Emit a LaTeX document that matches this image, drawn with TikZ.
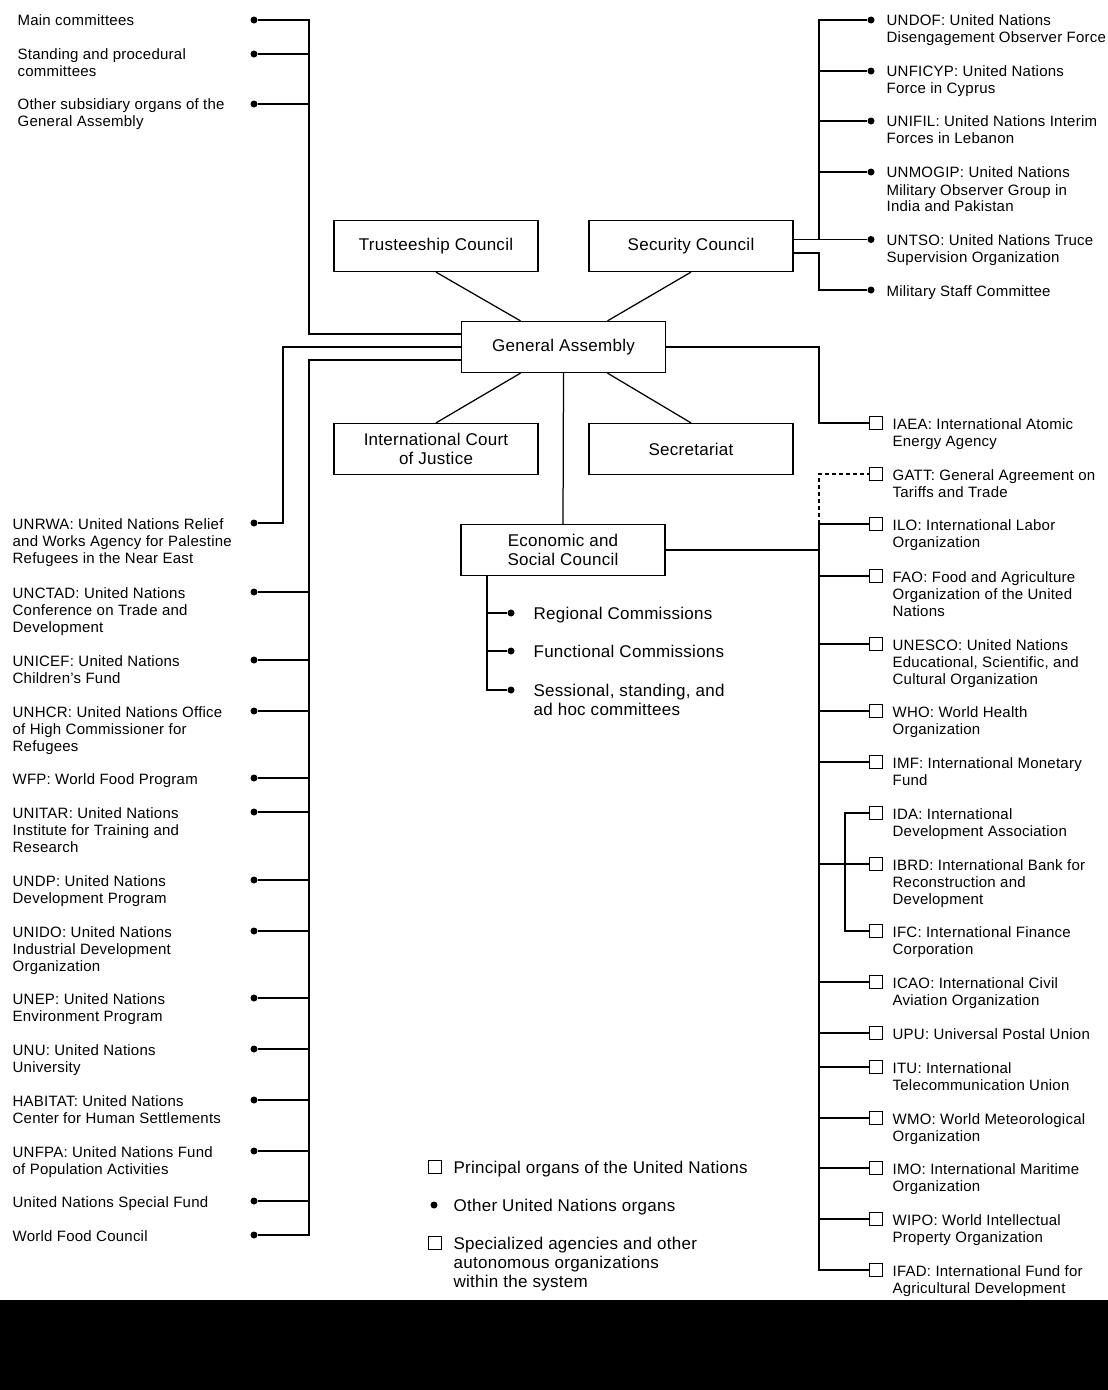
\documentclass[tikz,border=0pt]{standalone}
\usepackage{fontspec}
\setmainfont{Liberation Sans}[LetterSpace=1.6]
\usetikzlibrary{positioning, calc}
\tikzset{organ/.style={
    rectangle,
    draw,
    minimum width=204pt,
    minimum height=51pt,
    align=center,
    font=\fontsize{17}{19}\selectfont
}}
\tikzset{dot/.style={
    circle,
    fill,
    inner sep=0pt,
    minimum size=7pt
}}
\tikzset{agency/.style={
    rectangle,
    draw,
    fill=white,
    inner sep=0pt,
    minimum size=13pt
}}
\tikzset{lbl/.style={
    anchor=north west,
    inner sep=0pt,
    align=left,
    yshift=5.5pt,
    font=\fontsize{15}{17}\selectfont
}}
\tikzset{biglbl/.style={
    anchor=north west,
    inner sep=0pt,
    align=left,
    yshift=6.2pt,
    font=\fontsize{17}{19}\selectfont
}}

\begin{document}
\begin{tikzpicture}[x=1pt, y=-1pt, line width=1.25pt, black]
    \useasboundingbox (0,0) rectangle (1108,1390);
    % Principal organs
    \node (tc)     [organ] at (436,246)   {Trusteeship Council};
    \node (sc)     [organ] at (691,246)   {Security Council};
    \node (ga)     [organ] at (563.5,347) {General Assembly};
    \node (icj)    [organ] at (436,449)   {International Court\\of Justice};
    \node (sec)    [organ] at (691,449)   {Secretariat};
    \node (ecosoc) [organ] at (563,550)   {Economic and\\Social Council};
    % Bus lines
    \coordinate (busL) at (309,0);
    \coordinate (busU) at (283,0);
    \coordinate (busR) at (819,0);
    \coordinate (busB) at (845,0);
    \coordinate (busE) at (487,0);

    % General Assembly, subsidiary organs
    \node (mc)  [dot] at (254,20)  {};
    \node (spc) [dot] at (254,54)  {};
    \node (osg) [dot] at (254,104) {};
    \node [lbl] at (17,20)  {Main committees};
    \node [lbl] at (17,54)  {Standing and procedural\\committees};
    \node [lbl] at (17,104) {Other subsidiary organs of the\\General Assembly};

    % Other United Nations organs, left
    \node (unrwa)   [dot] at (254,523)  {};
    \node (unctad)  [dot] at (254,592)  {};
    \node (unicef)  [dot] at (254,660)  {};
    \node (unhcr)   [dot] at (254,711)  {};
    \node (wfp)     [dot] at (254,778)  {};
    \node (unitar)  [dot] at (254,812)  {};
    \node (undp)    [dot] at (254,880)  {};
    \node (unido)   [dot] at (254,931)  {};
    \node (unep)    [dot] at (254,998)  {};
    \node (unu)     [dot] at (254,1049) {};
    \node (habitat) [dot] at (254,1100) {};
    \node (unfpa)   [dot] at (254,1151) {};
    \node (unsf)    [dot] at (254,1201) {};
    \node (wfc)     [dot] at (254,1235) {};
    \node [lbl] at (12,523)  {UNRWA: United Nations Relief\\and Works Agency for Palestine\\Refugees in the Near East};
    \node [lbl] at (12,592)  {UNCTAD: United Nations\\Conference on Trade and\\Development};
    \node [lbl] at (12,660)  {UNICEF: United Nations\\Children's Fund};
    \node [lbl] at (12,711)  {UNHCR: United Nations Office\\of High Commissioner for\\Refugees};
    \node [lbl] at (12,778)  {WFP: World Food Program};
    \node [lbl] at (12,812)  {UNITAR: United Nations\\Institute for Training and\\Research};
    \node [lbl] at (12,880)  {UNDP: United Nations\\Development Program};
    \node [lbl] at (12,931)  {UNIDO: United Nations\\Industrial Development\\Organization};
    \node [lbl] at (12,998)  {UNEP: United Nations\\Environment Program};
    \node [lbl] at (12,1049) {UNU: United Nations\\University};
    \node [lbl] at (12,1100) {HABITAT: United Nations\\Center for Human Settlements};
    \node [lbl] at (12,1151) {UNFPA: United Nations Fund\\of Population Activities};
    \node [lbl] at (12,1201) {United Nations Special Fund};
    \node [lbl] at (12,1235) {World Food Council};

    % Security Council organs
    \node (undof)   [dot] at (871,20)    {};
    \node (unficyp) [dot] at (871,71)    {};
    \node (unifil)  [dot] at (871,121)   {};
    \node (unmogip) [dot] at (871,172)   {};
    \node (untso)   [dot] at (871,239.5) {};
    \node (msc)     [dot] at (871,290)   {};
    \node [lbl] at (886,20)    {UNDOF: United Nations\\Disengagement Observer Force};
    \node [lbl] at (886,71)    {UNFICYP: United Nations\\Force in Cyprus};
    \node [lbl] at (886,121)   {UNIFIL: United Nations Interim\\Forces in Lebanon};
    \node [lbl] at (886,172)   {UNMOGIP: United Nations\\Military Observer Group in\\India and Pakistan};
    \node [lbl] at (886,239.5) {UNTSO: United Nations Truce\\Supervision Organization};
    \node [lbl] at (886,290)   {Military Staff Committee};

    % Specialized agencies
    \node (iaea)   [agency] at (876,423)  {};
    \node (gatt)   [agency] at (876,474)  {};
    \node (ilo)    [agency] at (876,524)  {};
    \node (fao)    [agency] at (876,576)  {};
    \node (unesco) [agency] at (876,644)  {};
    \node (who)    [agency] at (876,711)  {};
    \node (imf)    [agency] at (876,762)  {};
    \node (ida)    [agency] at (876,813)  {};
    \node (ibrd)   [agency] at (876,864)  {};
    \node (ifc)    [agency] at (876,931)  {};
    \node (icao)   [agency] at (876,982)  {};
    \node (upu)    [agency] at (876,1033) {};
    \node (itu)    [agency] at (876,1067) {};
    \node (wmo)    [agency] at (876,1118) {};
    \node (imo)    [agency] at (876,1168) {};
    \node (wipo)   [agency] at (876,1219) {};
    \node (ifad)   [agency] at (876,1270) {};
    \node [lbl] at (892,423)  {IAEA: International Atomic\\Energy Agency};
    \node [lbl] at (892,474)  {GATT: General Agreement on\\Tariffs and Trade};
    \node [lbl] at (892,524)  {ILO: International Labor\\Organization};
    \node [lbl] at (892,576)  {FAO: Food and Agriculture\\Organization of the United\\Nations};
    \node [lbl] at (892,644)  {UNESCO: United Nations\\Educational, Scientific, and\\Cultural Organization};
    \node [lbl] at (892,711)  {WHO: World Health\\Organization};
    \node [lbl] at (892,762)  {IMF: International Monetary\\Fund};
    \node [lbl] at (892,813)  {IDA: International\\Development Association};
    \node [lbl] at (892,864)  {IBRD: International Bank for\\Reconstruction and\\Development};
    \node [lbl] at (892,931)  {IFC: International Finance\\Corporation};
    \node [lbl] at (892,982)  {ICAO: International Civil\\Aviation Organization};
    \node [lbl] at (892,1033) {UPU: Universal Postal Union};
    \node [lbl] at (892,1067) {ITU: International\\Telecommunication Union};
    \node [lbl] at (892,1118) {WMO: World Meteorological\\Organization};
    \node [lbl] at (892,1168) {IMO: International Maritime\\Organization};
    \node [lbl] at (892,1219) {WIPO: World Intellectual\\Property Organization};
    \node [lbl] at (892,1270) {IFAD: International Fund for\\Agricultural Development};

    % Economic and Social Council organs
    \node (regc) [dot] at (511,613) {};
    \node (func) [dot] at (511,651) {};
    \node (sess) [dot] at (511,690) {};
    \node [biglbl] at (533,613) {Regional Commissions};
    \node [biglbl] at (533,651) {Functional Commissions};
    \node [biglbl] at (533,690) {Sessional, standing, and\\ad hoc committees};

    % Legend
    \node (lgP) [agency] at (435,1167) {};
    \node (lgO) [dot]    at (434,1205) {};
    \node (lgS) [agency] at (435,1243) {};
    \node [biglbl] at (453,1167) {Principal organs of the United Nations};
    \node [biglbl] at (453,1205) {Other United Nations organs};
    \node [biglbl] at (453,1243) {Specialized agencies and other\\autonomous organizations\\within the system};

    % Principal organs links
    \draw ([xshift=-43pt]ga.north) -- (tc.south);
    \draw ([xshift=44pt]ga.north) -- (sc.south);
    \draw ([xshift=-43pt]ga.south) -- (icj.north);
    \draw ([xshift=44pt]ga.south) -- (sec.north);
    \draw (ga.south) -- (ecosoc.north);

    % General Assembly, left side
    \draw ([yshift=13pt]ga.west) -| (mc -| busL) -- (mc);
    \draw (spc) -- (spc -| busL);
    \draw (osg) -- (osg -| busL);
    \draw (ga.west) -| (unrwa -| busU) -- (unrwa);
    \draw ([yshift=-13pt]ga.west) -| (wfc -| busL) -- (wfc);
    \draw (unctad) -- (unctad -| busL);
    \draw (unicef) -- (unicef -| busL);
    \draw (unhcr) -- (unhcr -| busL);
    \draw (wfp) -- (wfp -| busL);
    \draw (unitar) -- (unitar -| busL);
    \draw (undp) -- (undp -| busL);
    \draw (unido) -- (unido -| busL);
    \draw (unep) -- (unep -| busL);
    \draw (unu) -- (unu -| busL);
    \draw (habitat) -- (habitat -| busL);
    \draw (unfpa) -- (unfpa -| busL);
    \draw (unsf) -- (unsf -| busL);

    % Security Council, right side
    \draw ([yshift=6.5pt]sc.east) -- (untso);
    \draw (undof) -| (untso -| busR);
    \draw (unficyp) -- (unficyp -| busR);
    \draw (unifil) -- (unifil -| busR);
    \draw (unmogip) -- (unmogip -| busR);
    \draw ([yshift=-7pt]sc.east) -| (msc -| busR) -- (msc);

    % Agencies
    \draw (ga.east) -| (iaea -| busR) -- (iaea);
    \draw [dash pattern=on 4pt off 3pt] (ilo -| busR) |- (gatt);
    \draw (ecosoc.east) -- (ecosoc.east -| busR);
    \draw (ilo) -- (ilo -| busR) -- (ifad -| busR) -- (ifad);
    \draw (fao) -- (fao -| busR);
    \draw (unesco) -- (unesco -| busR);
    \draw (who) -- (who -| busR);
    \draw (imf) -- (imf -| busR);
    \draw (ibrd) -- (ibrd -| busR);
    \draw (ida) -| (ifc -| busB) -- (ifc);
    \draw (icao) -- (icao -| busR);
    \draw (upu) -- (upu -| busR);
    \draw (itu) -- (itu -| busR);
    \draw (wmo) -- (wmo -| busR);
    \draw (imo) -- (imo -| busR);
    \draw (wipo) -- (wipo -| busR);

    % Economic and Social Council, below
    \draw (ecosoc.south -| busE) |- (sess);
    \draw (regc) -- (regc -| busE);
    \draw (func) -- (func -| busE);

    % Bottom band
    \fill (0,1300) rectangle (1108,1390);
\end{tikzpicture}
\end{document}
